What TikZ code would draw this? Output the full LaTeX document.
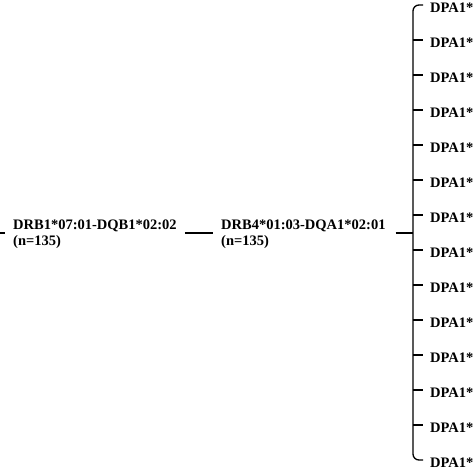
\documentclass[tikz,border=0pt]{standalone}
\usepackage{fontspec}
\setmainfont{Liberation Serif}
\begin{document}
\begin{tikzpicture}[x=1pt,y=-1pt,
		hap/.style={font=\bfseries\fontsize{14.5}{17}\selectfont, inner sep=0pt, anchor=base west},
		link/.style={line width=1.3pt}]
	\useasboundingbox (0,0) rectangle (474,474);
	
	%First haplotype
	\coordinate (stub) at (0,233);
	\node[hap] (hapA) at (13,229) {DRB1*07:01-DQB1*02:02};
	\node[hap] (cntA) at (13,245) {(n=135)};
	\draw[link, shorten >=8pt] (stub) -- (stub -| hapA.west);
	
	%Second haplotype
	\node[hap] (hapB) at (221,229) {DRB4*01:03-DQA1*02:01};
	\node[hap] (cntB) at (221,245) {(n=135)};
	\draw[link, shorten <=8pt, shorten >=8pt] (stub -| hapA.east) -- (stub -| hapB.west);
	
	%DPA1 branches
	\coordinate (fork) at (413,233);
	\draw[link, shorten <=10pt] (stub -| hapB.east) -- (fork);
	\foreach \i in {1,...,14}{
		\node[hap] (dpa\i) at (430,{12+35*(\i-1)}) {DPA1*};
		\coordinate (t\i) at (423,{5+35*(\i-1)});
	}
	\draw[link, rounded corners=6pt] (t1) -- (t1 -| fork) -- (t14 -| fork) -- (t14);
	\foreach \i in {2,...,13}
		\draw[link] (t\i -| fork) -- (t\i);
\end{tikzpicture}
\end{document}
